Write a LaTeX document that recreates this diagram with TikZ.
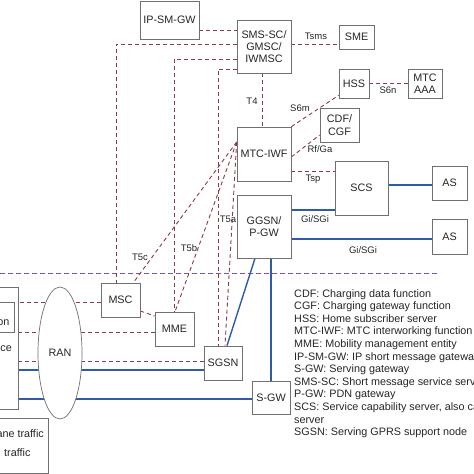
\documentclass[tikz,border=0pt]{standalone}
\usepackage{fontspec}
\setmainfont{Liberation Sans}
\usetikzlibrary{shapes.geometric,backgrounds}
\definecolor{cpred}{HTML}{8E3A46}
\definecolor{sepc}{HTML}{7B55A8}
\definecolor{upc}{HTML}{2F5BA8}
\definecolor{bx}{HTML}{707070}
\begin{document}
\begin{tikzpicture}[x=1pt,y=-1pt,
  box/.style={draw=bx, line width=0.7pt, fill=white, inner sep=0pt, align=center,
    font=\fontsize{10.8}{12.3}\selectfont, text=black!85},
  cp/.style={draw=cpred, line width=0.9pt, dash pattern=on 4pt off 3pt},
  upl/.style={draw=upc, line width=1.4pt},
  sepl/.style={draw=sepc, line width=0.9pt, dash pattern=on 4.5pt off 3.5pt},
  lbl/.style={font=\fontsize{9.5}{11}\selectfont, inner sep=0pt, text=black!85},
  legtxt/.style={font=\fontsize{10.8}{12.6}\selectfont, inner sep=0pt, align=left, text=black!85}]
\useasboundingbox (0,0) rectangle (474,474);
% nodes
\node[box, minimum width=59pt, minimum height=38pt] (ipsm) at (169.5,20) {IP-SM-GW};
\node[box, minimum width=54pt, minimum height=53pt] (sms) at (264,46.5) {SMS-SC/\\GMSC/\\IWMSC};
\node[box, minimum width=35pt, minimum height=24pt] (sme) at (356.5,37) {SME};
\node[box, minimum width=30pt, minimum height=29pt] (hss) at (354,83.5) {HSS};
\node[box, minimum width=34pt, minimum height=29pt] (aaa) at (425,83.5) {MTC\\AAA};
\node[box, minimum width=39pt, minimum height=34pt] (cdf) at (339.5,125) {CDF/\\CGF};
\node[box, minimum width=54pt, minimum height=54pt] (mtc) at (264,154) {MTC-IWF};
\node[box, minimum width=54pt, minimum height=63pt] (ggsn) at (264,226.5) {GGSN/\\P-GW};
\node[box, minimum width=53pt, minimum height=54pt] (scs) at (361.5,188) {SCS};
\node[box, minimum width=35pt, minimum height=34pt] (asa) at (449.5,183) {AS};
\node[box, minimum width=35pt, minimum height=35pt] (asb) at (449.5,236.5) {AS};
\node[box, minimum width=39pt, minimum height=34pt] (msc) at (120.5,300) {MSC};
\node[box, minimum width=39pt, minimum height=34pt] (mme) at (174.5,329) {MME};
\node[box, minimum width=38pt, minimum height=34pt] (sgsn) at (223,363) {SGSN};
\node[box, minimum width=38pt, minimum height=33pt] (sgw) at (271,397.5) {S-GW};
\node[box, ellipse, minimum width=44pt, minimum height=132pt] (ran) at (60,353) {RAN};
\node[box, minimum width=38pt, minimum height=122pt] (ue) at (-1,348) {};
\node[box, minimum width=34pt, minimum height=30pt] (app) at (-3,317) {};
\node[box, minimum width=108pt, minimum height=55pt] (leg) at (-6,445.5) {};
\node[legtxt, anchor=east] (apptxt) at (9.5,323) {on};
\node[legtxt, anchor=east] (uetxt) at (12,349) {ce};
\node[legtxt, anchor=east] (legcp) at (44,434) {ane traffic};
\node[legtxt, anchor=west] (legup) at (4,453) {traffic};
% labels
\node[lbl] (ltsms) at (316,36) {Tsms};
\node[lbl] (lt4) at (252,101) {T4};
\node[lbl] (ls6m) at (300,108) {S6m};
\node[lbl] (ls6n) at (388,90) {S6n};
\node[lbl] (lrf) at (320,149) {Rf/Ga};
\node[lbl] (ltsp) at (313,179) {Tsp};
\node[lbl] (lgia) at (315,219) {Gi/SGi};
\node[lbl] (lgib) at (363,250) {Gi/SGi};
\node[lbl] (lt5c) at (140,257) {T5c};
\node[lbl] (lt5b) at (189,248) {T5b};
\node[lbl] (lt5a) at (228,219) {T5a};
% legend
\node[legtxt, anchor=north west] (legend) at (294,289) {CDF: Charging data function\\
CGF: Charging gateway function\\
HSS: Home subscriber server\\
MTC-IWF: MTC interworking function\\
MME: Mobility management entity\\
IP-SM-GW: IP short message gateway\\
S-GW: Serving gateway\\
SMS-SC: Short message service server\\
P-GW: PDN gateway\\
SCS: Service capability server, also called MTC\\
server\\
SGSN: Serving GPRS support node};
% connectors
\begin{scope}[on background layer]
\fill[white] (0,0) rectangle (474,474);
\draw[sepl] (0,273) -- (438,273);
\draw[cp] ([yshift=-10pt]ipsm.east) -- ([yshift=16.5pt]sms.west);
\draw[cp] ([yshift=2.5pt]sms.west) -| ([xshift=-4.5pt]msc.north);
\draw[cp] ([yshift=-12.5pt]sms.west) -| ([xshift=-0.5pt]mme.north);
\draw[cp] ([yshift=-22.5pt]sms.west) -| ([xshift=-5pt]sgsn.north);
\draw[cp] ([yshift=2.5pt]sms.east) -- ([yshift=-7pt]sme.west);
\draw[cp] ([xshift=-2pt]sms.south) -- ([xshift=-2pt]mtc.north);
\draw[cp] (mtc.north east) -- ([yshift=3pt]hss.south west);
\draw[cp] ([yshift=0.5pt]hss.east) -- ([yshift=0.5pt]aaa.west);
\draw[cp] ([yshift=-3pt]mtc.east) -- ([yshift=-10pt]cdf.west);
\draw[cp] ([yshift=-17pt]mtc.east) -- ([yshift=17pt]scs.west);
\draw[cp] ([yshift=12pt]mtc.west) -- ([xshift=-7pt]msc.north east);
\draw[cp] ([yshift=12pt]mtc.west) -- ([xshift=0.5pt]mme.north);
\draw[cp] ([yshift=12pt]mtc.west) -- ([xshift=2pt]sgsn.north);
\draw[cp] ([yshift=-11pt]msc.east) -- ([yshift=13pt]mme.west);
\draw[cp] ([yshift=-2pt]msc.west) coordinate (m1) -- (ue.east |- m1);
\draw[cp] ([yshift=-3pt]mme.west) coordinate (m2) -- (ue.east |- m2);
\draw[cp] ([yshift=2pt]sgsn.west) coordinate (m3) -- (ue.east |- m3);
\draw[upl] ([yshift=-7pt]sgsn.west) coordinate (m4) -- (ue.east |- m4);
\draw[upl] ([yshift=-1.5pt]sgw.west) coordinate (m5) -- (ue.east |- m5);
\draw[upl] ([yshift=16.5pt]ggsn.east) -- ([yshift=-22pt]scs.west);
\draw[upl] ([yshift=-12.5pt]ggsn.east) -- ([yshift=-2.5pt]asb.west);
\draw[upl] ([yshift=3pt]scs.east) -- ([yshift=-2pt]asa.west);
\draw[upl] ([xshift=4pt]sgsn.north) -- ([xshift=-9pt]ggsn.south);
\draw[upl] (sgw.north) -- (sgw.north |- ggsn.south);
\end{scope}
\end{tikzpicture}
\end{document}
